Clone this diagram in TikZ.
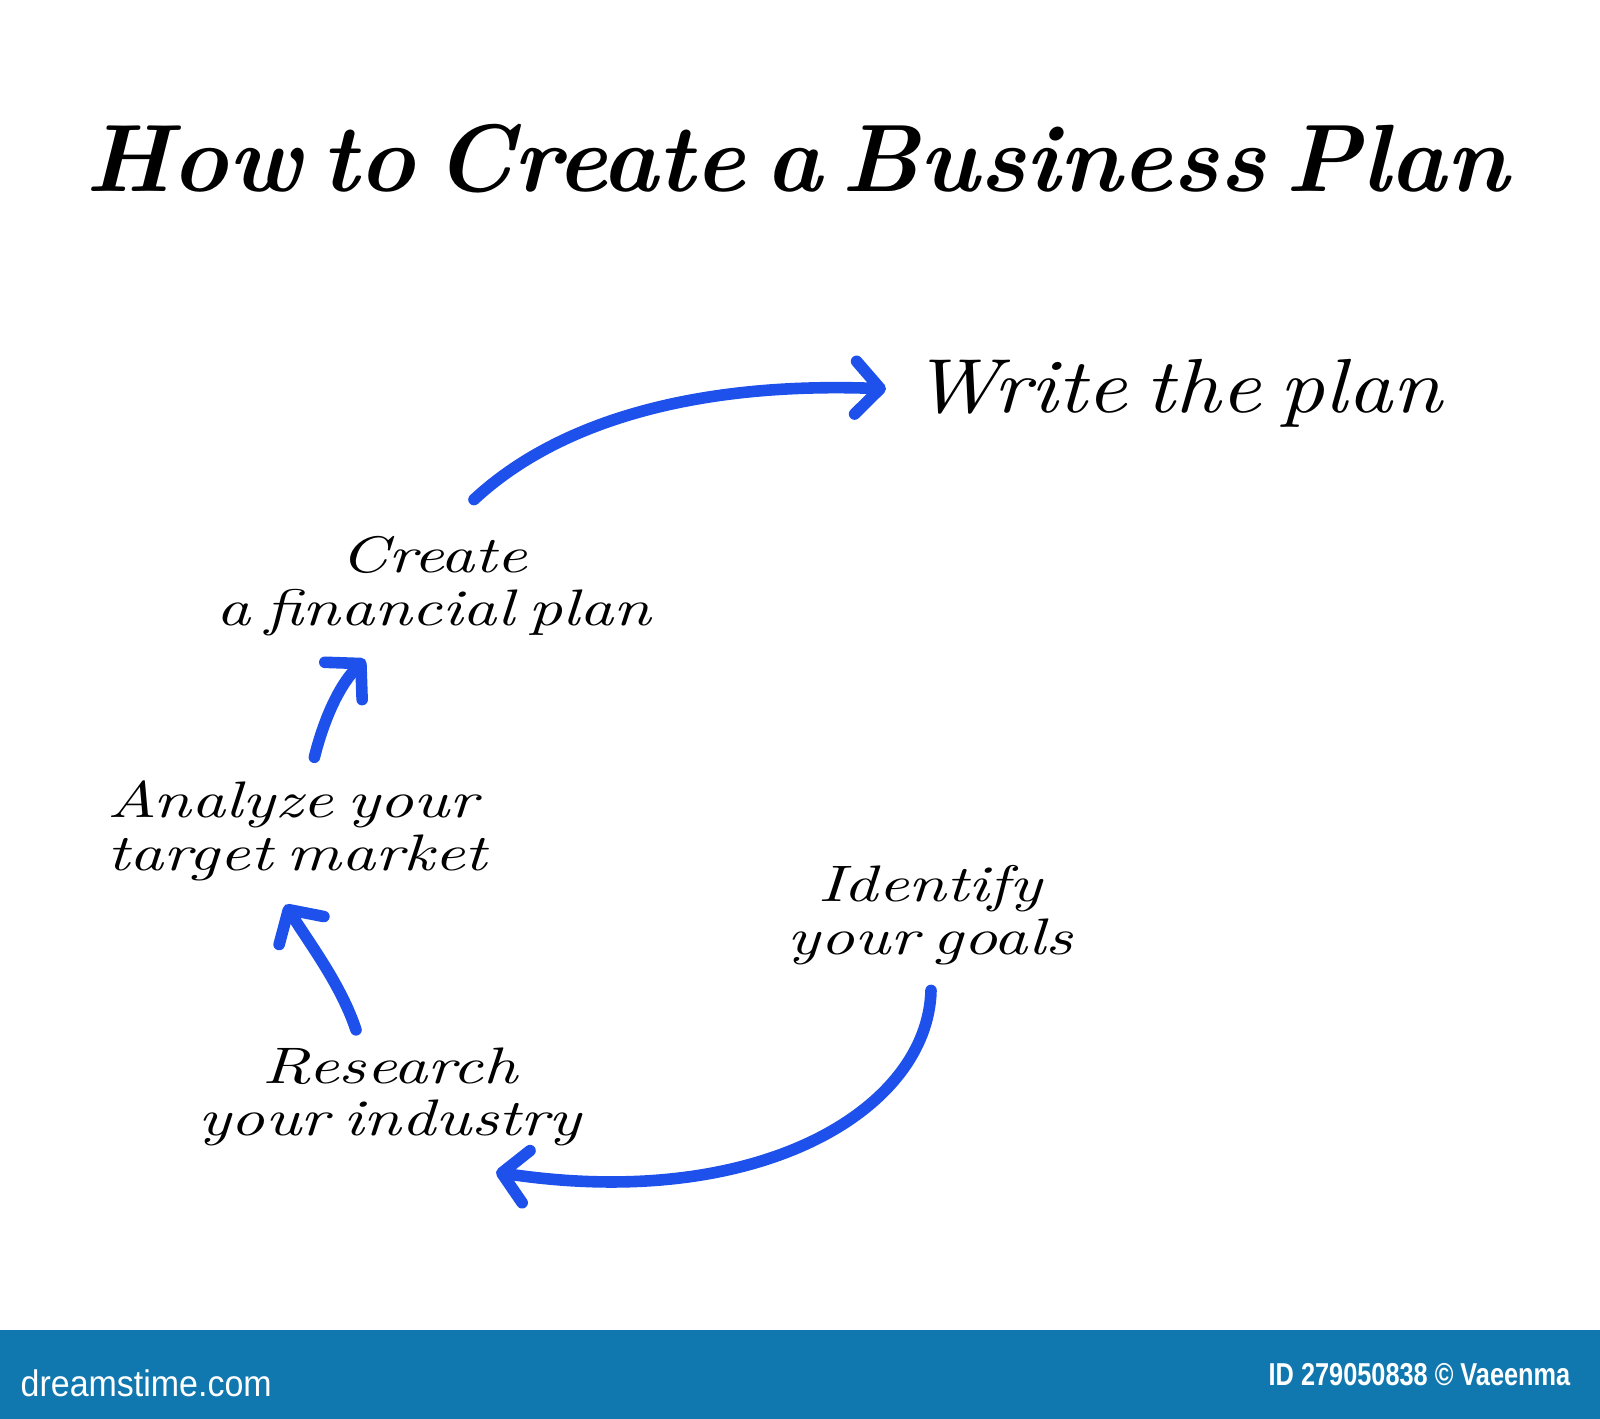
\documentclass[tikz,border=0pt]{standalone}
\usepackage{fontspec}
\usepackage{tikz}
\usetikzlibrary{arrows.meta, calc}
\newfontfamily\handfont[FakeStretch=1.3, WordSpace=0.6]{lmroman10-italic.otf}
\newfontfamily\writefont[FakeStretch=1.15, WordSpace=0.6]{lmroman10-italic.otf}
\newfontfamily\titlefont[WordSpace=0.5]{lmroman10-bolditalic.otf}
\newfontfamily\barfont[FakeStretch=0.8]{Liberation Sans}
\newfontfamily\sitefont[FakeStretch=0.92]{Liberation Sans}
\definecolor{planblue}{RGB}{30,80,235}
\definecolor{barblue}{RGB}{17,120,175}
\tikzstyle{heading} = [inner sep=0pt, font=\titlefont\fontsize{27.2}{30}\selectfont]
\tikzstyle{target} = [inner sep=0pt, font=\writefont\fontsize{21.8}{24}\selectfont]
\tikzstyle{stage} = [inner sep=0pt, align=center, font=\handfont\fontsize{14.6}{15}\selectfont]
\tikzstyle{bartext} = [inner sep=0pt, text=white]
\tikzstyle{flow} = [draw=planblue, line width=3.3pt, line cap=round, -{Straight Barb[length=7pt,width=15pt,round]}]

\begin{document}
\begin{tikzpicture}[x=0.01cm, y=-0.01cm]
        \fill[white] (0,0) rectangle (1600,1419);
        \useasboundingbox (0,0) rectangle (1600,1419);

        \node (title) [heading, anchor=base] at (797,192) {How to Create a Business Plan};
        \node (write) [target, anchor=base west] at (911,413) {Write the plan};
        \node (finance) [stage] at (434,586) {Create\\a financial plan};
        \node (market) [stage, align=left, anchor=west] at (107,831) {Analyze your\\target market};
        \node (industry) [stage] at (390,1097) {Research\\your industry};
        \node (goals) [stage] at (930,915) {Identify\\your goals};

        \draw [flow] ($(goals.south)+(1,25)$) .. controls +(-3,118) and +(265,40) .. ($(industry.south)+(106,25)$);
        \draw [flow] ($(industry.north)+(-34,-17)$) .. controls +(-15,-45) and +(25,40) .. ($(market.south)+(-12,23)$);
        \draw [flow] ($(market.north)+(17,-23)$) .. controls +(10,-40) and +(-25,25) .. ($(finance.south)+(-69,23)$);
        \draw [flow] ($(finance.north)+(40,-36)$) .. controls +(86,-80) and +(-186,-7) .. ($(write.west)+(-25,-5)$);

        \fill[barblue] (0,1330) rectangle (1600,1419);
        \node (site) [bartext, anchor=west, font=\sitefont\fontsize{10.5}{12}\selectfont] at (20,1383) {dreamstime.com};
        \node (credit) [bartext, anchor=east, font=\barfont\bfseries\fontsize{9}{11}\selectfont] at (1571,1375) {ID 279050838 © Vaeenma};
\end{tikzpicture}
\end{document}
